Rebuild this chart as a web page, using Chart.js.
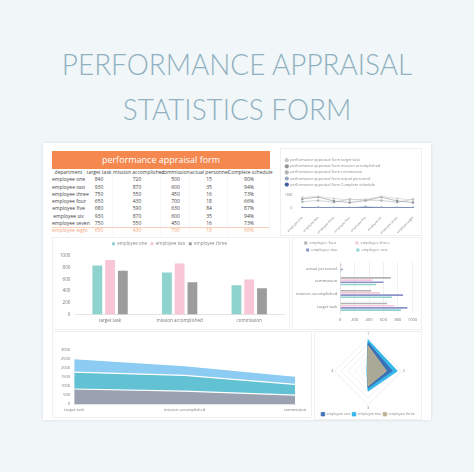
<!DOCTYPE html>
<html>
<head>
<meta charset="utf-8">
<script src="https://cdn.jsdelivr.net/npm/chart.js@4.4.0/dist/chart.umd.min.js"></script>
<style>
  body { margin: 0; width: 474px; height: 472px; background: #f1f6f8; overflow: hidden; position: relative; font-family: 'Open Sans', sans-serif; }
  .title { position: absolute; left: 0; width: 474px; text-align: center; color: #8eb0bf; font-family: 'Lato', sans-serif; font-weight: 300; font-size: 30px; line-height: 36px; white-space: nowrap; transform: scaleX(0.93); }
  .card { position: absolute; left: 43px; top: 143px; width: 388px; height: 277px; background: #fff; box-shadow: 0 0 3px rgba(0,0,0,0.12); }
  .box { position: absolute; border: 1px solid #f0f0f0; box-sizing: border-box; }
  #tableWrap { position: absolute; left: 52px; top: 151px; width: 218px; }
  #tableHead { height: 18px; background: #f5884f; color: #fff; font-size: 9px; line-height: 18px; text-align: center; }
  .row { display: flex; height: 7.3px; line-height: 7.3px; font-size: 5px; color: #444; }
  .row span { display: block; text-align: center; white-space: nowrap; overflow: visible; box-shadow: inset -0.5px 0 0 #efefef; }
  .row.last { color: #f2a57a; box-shadow: inset 0 0.8px 0 #f7c0a0; }
</style>
</head>
<body>
<div class="title" style="top:45px">PERFORMANCE APPRAISAL</div>
<div class="title" style="top:90px">STATISTICS FORM</div>
<div class="card"></div>

<div id="tableWrap">
  <div id="tableHead">performance appraisal form</div>
  <div id="statsTable"></div>
</div>

<div class="box" style="left:280px;top:148px;width:142px;height:88px"><canvas id="lineChart"></canvas></div>
<div class="box" style="left:52px;top:237px;width:238px;height:93px"><canvas id="barChart"></canvas></div>
<div class="box" style="left:292px;top:237px;width:130px;height:93px"><canvas id="hbarChart"></canvas></div>
<div class="box" style="left:52px;top:331px;width:260px;height:87px"><canvas id="areaChart"></canvas></div>
<div class="box" style="left:314px;top:331px;width:108px;height:89px"><canvas id="radarChart"></canvas></div>

<script>
const employees = ['employee one', 'employee two', 'employee three', 'employee four', 'employee five', 'employee six', 'employee seven', 'employee eight'];
const targetTask = [840, 930, 750, 650, 680, 930, 750, 650];
const missionAccomplished = [720, 870, 550, 430, 590, 870, 550, 430];
const commission = [500, 600, 450, 700, 630, 600, 450, 700];
const actualPersonnel = [15, 35, 16, 18, 84, 35, 16, 18];
const completeSchedule = [0.90, 0.94, 0.73, 0.66, 0.87, 0.94, 0.73, 0.66];
const tableHeaders = ['department', 'target task', 'mission accomplished', 'commission', 'actual personnel', 'Complete schedule'];
const metrics = ['target task', 'mission accomplished', 'commission'];
const hbarCategories = ['actual personnel', 'commission', 'mission accomplished', 'target task'];
const radarLabels = ['1', '2', '3', '4'];
const areaTicks = [0, 500, 1000, 1500, 2000, 2500, 3000];

Chart.defaults.font.family = "'Open Sans', sans-serif";
Chart.defaults.color = '#777';
Chart.defaults.animation = false;
Chart.defaults.plugins.tooltip.enabled = false;

const plain = v => String(v);   // no thousands separator, like the original

// table built from the same arrays
const colWidths = [33, 28, 48, 29, 38, 42];
const makeRow = (cells, cls) =>
  `<div class="row${cls || ''}">` + cells.map((c, k) => `<span style="width:${colWidths[k]}px">${c}</span>`).join('') + '</div>';
let html = makeRow(tableHeaders);
employees.forEach((name, i) => {
  html += makeRow([name, targetTask[i], missionAccomplished[i], commission[i], actualPersonnel[i],
    Math.round(completeSchedule[i] * 100) + '%'], i === employees.length - 1 ? ' last' : '');
});
document.getElementById('statsTable').innerHTML = html;

const tiny = { size: 4 };

// line chart, top right
const lineSeries = [
  { name: 'target task', data: targetTask, color: '#c9c9c9' },
  { name: 'mission accomplished', data: missionAccomplished, color: '#8f9499' },
  { name: 'commission', data: commission, color: '#b0b4b8' },
  { name: 'actual personnel', data: actualPersonnel, color: '#9aa7bd' },
  { name: 'Complete schedule', data: completeSchedule, color: '#3f5f9f' }
];
new Chart(document.getElementById('lineChart'), {
  type: 'line',
  data: {
    labels: employees,
    datasets: lineSeries.map((s, i) => ({
      label: 'performance appraisal form ' + s.name,
      data: s.data,
      borderColor: s.color,
      backgroundColor: s.color,
      borderWidth: i === 4 ? 1.5 : 0.6,
      pointRadius: 1.2,
      pointBorderWidth: 0
    }))
  },
  options: {
    responsive: true,
    maintainAspectRatio: false,
    layout: { padding: { left: 2, right: 8, top: 7, bottom: 0 } },
    plugins: {
      legend: {
        position: 'top',
        align: 'start',
        labels: { font: { size: 3.8 }, usePointStyle: true, boxWidth: 3, boxHeight: 3, padding: 2.3, color: '#888' }
      }
    },
    scales: {
      y: {
        min: 0, max: 1000,
        ticks: { stepSize: 500, font: { size: 3.2 }, padding: 2, callback: plain },
        grid: { display: false },
        border: { display: false }
      },
      x: {
        ticks: { font: { size: 3.1 }, autoSkip: false, maxRotation: 45, minRotation: 45, padding: 0 },
        grid: { display: false },
        border: { color: '#e0e0e0' }
      }
    }
  }
});

// grouped bar chart, middle left
const barColors = ['#8fd3cf', '#f8c6d6', '#9d9d9d'];
new Chart(document.getElementById('barChart'), {
  type: 'bar',
  data: {
    labels: metrics,
    datasets: [0, 1, 2].map(i => ({
      label: employees[i],
      data: [targetTask[i], missionAccomplished[i], commission[i]],
      backgroundColor: barColors[i],
      categoryPercentage: 0.55,
      barPercentage: 0.77
    }))
  },
  options: {
    responsive: true,
    maintainAspectRatio: false,
    layout: { padding: { left: 2, right: 5, top: 0, bottom: 3 } },
    plugins: {
      legend: { labels: { font: { size: 4.5 }, boxWidth: 3, boxHeight: 3, padding: 3.5, color: '#888' } }
    },
    scales: {
      y: {
        min: 0, max: 1000,
        ticks: { stepSize: 200, font: { size: 4.5 }, padding: 5, callback: plain },
        grid: { display: false, drawTicks: false },
        border: { display: false }
      },
      x: {
        ticks: { font: { size: 4.5 }, padding: 3 },
        grid: { display: false, drawTicks: false },
        border: { color: '#e3e3e3' }
      }
    }
  }
});

// horizontal bar chart, middle right
const hbarOrder = [3, 2, 1, 0];
const hbarColors = ['#b3b3b3', '#f7c9d8', '#8d93c9', '#8ed3d0'];
new Chart(document.getElementById('hbarChart'), {
  type: 'bar',
  data: {
    labels: hbarCategories,
    datasets: hbarOrder.map((e, k) => ({
      label: employees[e],
      data: [actualPersonnel[e], commission[e], missionAccomplished[e], targetTask[e]],
      backgroundColor: hbarColors[k],
      categoryPercentage: 0.68,
      barPercentage: 0.75
    }))
  },
  options: {
    indexAxis: 'y',
    responsive: true,
    maintainAspectRatio: false,
    layout: { padding: { left: 0, right: 4, top: 0, bottom: 3 } },
    plugins: {
      legend: {
        labels: {
          font: tiny, boxWidth: 3, boxHeight: 3, padding: 3, color: '#888',
          generateLabels: chart => Chart.defaults.plugins.legend.labels.generateLabels(chart)
            .map(l => ({ ...l, text: l.text + '\u2003\u2003\u2003\u2003' }))
        }
      }
    },
    scales: {
      x: {
        min: 0, max: 1000,
        ticks: { stepSize: 200, font: tiny, padding: 4, maxRotation: 0, callback: plain },
        grid: { color: '#f0f0f0', drawTicks: false },
        border: { display: false }
      },
      y: {
        ticks: { font: tiny, padding: 3 },
        grid: { display: false, drawTicks: false },
        border: { color: '#e3e3e3' }
      }
    }
  }
});

// stacked area chart, bottom left
const areaColors = ['#9aa2b1', '#62c1d3', '#8ccbf2'];
new Chart(document.getElementById('areaChart'), {
  type: 'line',
  data: {
    labels: metrics,
    datasets: [0, 1, 2].map(i => ({
      label: employees[i],
      data: [targetTask[i], missionAccomplished[i], commission[i]],
      backgroundColor: areaColors[i],
      borderColor: '#ffffff',
      borderWidth: 1.2,
      pointRadius: 0,
      fill: i === 0 ? 'origin' : '-1',
      tension: 0
    }))
  },
  options: {
    responsive: true,
    maintainAspectRatio: false,
    layout: { padding: { left: 4, right: 16, top: 18, bottom: 2 } },
    plugins: { legend: { display: false } },
    scales: {
      y: {
        stacked: true,
        min: areaTicks[0], max: areaTicks[areaTicks.length - 1],
        afterBuildTicks: axis => { axis.ticks = areaTicks.map(v => ({ value: v })); },
        ticks: { font: tiny, padding: 4, callback: plain },
        grid: { display: false, drawTicks: false },
        border: { display: false }
      },
      x: {
        offset: false,
        ticks: { font: tiny, padding: 3 },
        grid: { display: false, drawTicks: false },
        border: { color: '#e3e3e3' }
      }
    }
  }
});

// radar chart, bottom right
const radarStyles = [
  { border: '#3a6db3', fill: 'rgba(58,109,179,0.95)', order: 1 },
  { border: '#2bb2e8', fill: 'rgba(43,178,232,0.95)', order: 2 },
  { border: '#c8b48a', fill: 'rgba(176,172,150,0.95)', order: 0 }
];
new Chart(document.getElementById('radarChart'), {
  type: 'radar',
  data: {
    labels: radarLabels,
    datasets: [0, 1, 2].map(i => ({
      label: employees[i],
      data: [targetTask[i], missionAccomplished[i], commission[i], actualPersonnel[i]],
      borderColor: radarStyles[i].border,
      backgroundColor: radarStyles[i].fill,
      borderWidth: 0.8,
      pointRadius: 0,
      fill: true,
      order: radarStyles[i].order
    }))
  },
  options: {
    responsive: true,
    maintainAspectRatio: false,
    // the legend box reserves extra space below its row; pull it down a little
    layout: { padding: { top: 0, left: 0, right: 0, bottom: -7 } },
    plugins: {
      legend: {
        position: 'bottom',
        labels: {
          font: { size: 3.6 }, boxWidth: 3.5, boxHeight: 3.5, padding: 2, color: '#888',
          sort: (a, b) => a.datasetIndex - b.datasetIndex
        }
      }
    },
    scales: {
      r: {
        min: 0, max: 1000,
        ticks: { display: false, stepSize: 200 },
        grid: { color: '#e6e6e6', lineWidth: 0.6 },
        angleLines: { display: false },
        pointLabels: { font: { size: 3.6 }, color: '#777', padding: 1 }
      }
    }
  }
});
</script>
</body>
</html>
